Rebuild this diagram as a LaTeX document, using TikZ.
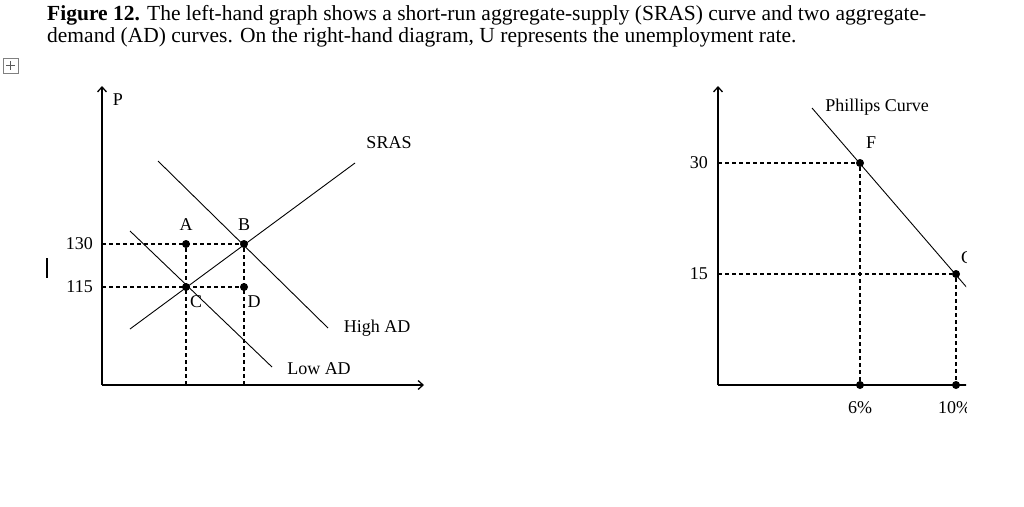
\documentclass[tikz,border=0pt]{standalone}
\usepackage{fontspec}
\setmainfont{Liberation Serif}
\usetikzlibrary{arrows.meta}
\begin{document}
\begin{tikzpicture}[x=1pt,y=-1pt,
  ax/.style={line width=1.3pt,-{Straight Barb[length=5pt,width=9pt]}},
  crv/.style={line width=0.9pt},
  dsh/.style={line width=1.1pt,dash pattern=on 4pt off 3pt},
  dot/.style={circle,fill=black,inner sep=0pt,minimum size=8pt},
  lbl/.style={font=\fontsize{18}{18}\selectfont,inner sep=1pt},
  captxt/.style={font=\fontsize{21.5}{21.5}\selectfont,anchor=base west,inner sep=0pt}]
\useasboundingbox (0,0) rectangle (1024,506);
% caption
\node[captxt] (c1) at (47,20) {\textbf{Figure 12.} The left-hand graph shows a short-run aggregate-supply (SRAS) curve and two aggregate-};
\node[captxt] (c2) at (47,42) {demand (AD) curves. On the right-hand diagram, U represents the unemployment rate.};
% move icon
\draw[gray,line width=0.8pt] (3,58) rectangle (18,73);
\draw[gray!70!black,line width=0.8pt] (10.5,61) -- (10.5,70) (6,65.5) -- (15,65.5);
% cursor
\draw[line width=1.5pt] (47,258) -- (47,278);
% left graph
\coordinate (o1) at (102,385);
\coordinate (ytop1) at (102,86);
\coordinate (xend1) at (424,385);
\draw[ax] (o1) -- (ytop1);
\draw[ax] (o1) -- (xend1);
\node[lbl] (P) at (118,100) {P};
\coordinate (s1) at (130,329); \coordinate (s2) at (355,163);
\draw[crv] (s1) -- (s2);
\coordinate (h1) at (158,161); \coordinate (h2) at (328,328);
\draw[crv] (h1) -- (h2);
\coordinate (l1) at (130,231); \coordinate (l2) at (272,367);
\draw[crv] (l1) -- (l2);
\node[lbl] (sras) at (389,143) {SRAS};
\node[lbl] (high) at (377,328) {High AD};
\node[lbl] (low) at (319,369) {Low AD};
\node[dot] (A) at (186,244) {};
\node[dot] (B) at (244,244) {};
\node[dot] (C) at (186,287) {};
\node[dot] (D) at (244,287) {};
\coordinate (ya) at (102,244); \coordinate (yc) at (102,287);
\coordinate (xa) at (186,385); \coordinate (xb) at (244,385);
\draw[dsh] (ya) -- (B) (yc) -- (D) (A) -- (xa) (B) -- (xb);
\node[lbl] (Al) at (186,225) {A};
\node[lbl] (Bl) at (244,225) {B};
\node[lbl] (Cl) at (196,302) {C};
\node[lbl] (Dl) at (254,302) {D};
\node[lbl,anchor=east] (n130) at (94,244) {130};
\node[lbl,anchor=east] (n115) at (94,287) {115};
% right graph
\begin{scope}
\clip (690,80) rectangle (966,430);
\coordinate (o2) at (718,385);
\coordinate (ytop2) at (718,86);
\coordinate (xend2) at (990,385);
\draw[ax] (o2) -- (ytop2);
\draw[ax] (o2) -- (xend2);
\coordinate (p1) at (812,108); \coordinate (p2) at (975,297);
\draw[crv] (p1) -- (p2);
\node[dot] (F) at (860,163) {};
\node[dot] (G) at (956,274) {};
\node[dot] (F0) at (860,385) {};
\node[dot] (G0) at (956,385) {};
\coordinate (y30) at (718,163); \coordinate (y15) at (718,274);
\draw[dsh] (y30) -- (F) (y15) -- (G) (F) -- (F0) (G) -- (G0);
\node[lbl] (Fl) at (871,143) {F};
\node[lbl,anchor=west] (Gl) at (960,258) {G};
\node[lbl] (pc) at (877,107) {Phillips Curve};
\node[lbl] (six) at (860,408) {6\%};
\node[lbl,anchor=west] (ten) at (937,408) {10\%};
\end{scope}
\node[lbl,anchor=east] (n30) at (709,163) {30};
\node[lbl,anchor=east] (n15) at (709,274) {15};
\end{tikzpicture}
\end{document}
